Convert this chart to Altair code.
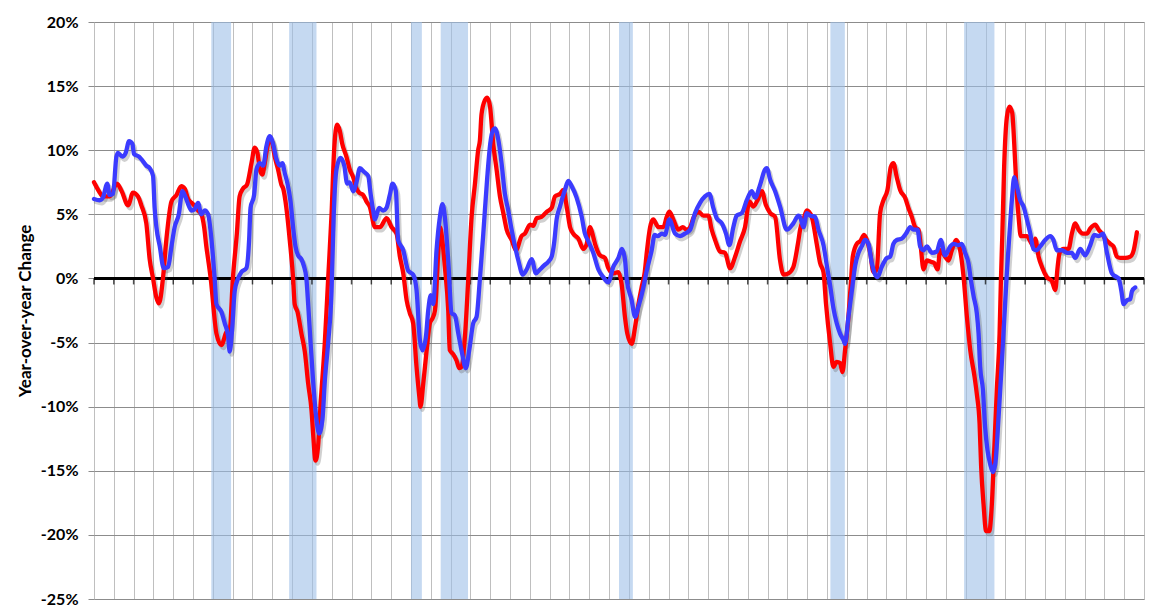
import altair as alt
import pandas as pd

# ---------------- data ----------------
red_years = [
    1964.00, 1964.25, 1964.45, 1964.79, 1965.16, 1965.40, 1965.72, 1965.97, 1966.22, 1966.39,
    1966.64, 1966.81, 1966.98, 1967.15, 1967.28, 1967.48, 1967.65, 1967.91, 1968.16, 1968.41,
    1968.58, 1968.75, 1969.00, 1969.25, 1969.42, 1969.56, 1969.67, 1969.76, 1969.89, 1970.18,
    1970.43, 1970.68, 1970.85, 1971.01, 1971.21, 1971.35, 1971.52, 1971.72, 1971.95, 1972.11,
    1972.25, 1972.37, 1972.50, 1972.62, 1972.79, 1972.96, 1973.12, 1973.29, 1973.46, 1973.55,
    1973.71, 1973.88, 1974.05, 1974.13, 1974.27, 1974.47, 1974.64, 1974.81, 1974.98, 1975.06,
    1975.18, 1975.31, 1975.43, 1975.65, 1975.82, 1975.99, 1976.12, 1976.27, 1976.41, 1976.53,
    1976.74, 1976.91, 1977.08, 1977.25, 1977.38, 1977.59, 1977.75, 1977.92, 1978.18, 1978.43,
    1978.77, 1979.02, 1979.27, 1979.44, 1979.61, 1979.78, 1979.94, 1980.11, 1980.28, 1980.42,
    1980.48, 1980.62, 1980.79, 1980.95, 1981.09, 1981.21, 1981.38, 1981.46, 1981.54, 1981.71,
    1981.88, 1981.96, 1982.13, 1982.30, 1982.44, 1982.55, 1982.72, 1982.89, 1983.06, 1983.23,
    1983.39, 1983.48, 1983.56, 1983.73, 1983.85, 1983.99, 1984.15, 1984.32, 1984.49, 1984.66,
    1984.83, 1985.08, 1985.30, 1985.58, 1985.75, 1986.01, 1986.17, 1986.34, 1986.59, 1986.85,
    1987.10, 1987.27, 1987.52, 1987.69, 1987.86, 1988.03, 1988.19, 1988.45, 1988.70, 1988.87,
    1989.04, 1989.12, 1989.29, 1989.54, 1989.79, 1989.96, 1990.21, 1990.47, 1990.63, 1990.80,
    1990.92, 1991.14, 1991.31, 1991.48, 1991.64, 1991.80, 1991.90, 1992.07, 1992.23, 1992.49,
    1992.74, 1992.91, 1993.04, 1993.24, 1993.50, 1993.72, 1993.92, 1994.09, 1994.25, 1994.51,
    1994.76, 1995.01, 1995.18, 1995.35, 1995.60, 1995.85, 1996.11, 1996.36, 1996.61, 1996.86,
    1997.08, 1997.28, 1997.49, 1997.71, 1997.92, 1998.13, 1998.38, 1998.63, 1998.80, 1999.05,
    1999.30, 1999.56, 1999.64, 1999.81, 1999.98, 2000.23, 2000.48, 2000.65, 2000.82, 2000.95,
    2001.16, 2001.32, 2001.49, 2001.66, 2001.78, 2001.91, 2002.08, 2002.20, 2002.30, 2002.50,
    2002.67, 2002.87, 2003.01, 2003.18, 2003.34, 2003.51, 2003.68, 2003.85, 2004.05, 2004.22,
    2004.35, 2004.52, 2004.69, 2004.94, 2005.11, 2005.28, 2005.45, 2005.62, 2005.73, 2005.87,
    2006.04, 2006.24, 2006.41, 2006.58, 2006.71, 2006.96, 2007.13, 2007.30, 2007.52, 2007.72,
    2007.90, 2008.06, 2008.23, 2008.45, 2008.56, 2008.70, 2008.78, 2008.90, 2009.03, 2009.19,
    2009.32, 2009.44, 2009.57, 2009.71, 2009.78, 2009.85, 2009.94, 2010.08, 2010.21, 2010.35,
    2010.45, 2010.55, 2010.67, 2010.78, 2011.09, 2011.26, 2011.42, 2011.51, 2011.68, 2011.85,
    2012.10, 2012.35, 2012.52, 2012.64, 2012.74, 2012.94, 2013.19, 2013.36, 2013.53, 2013.70,
    2013.92, 2014.12, 2014.29, 2014.54, 2014.71, 2014.88, 2015.04, 2015.30, 2015.46, 2015.63,
    2015.80, 2016.05, 2016.31, 2016.48, 2016.64,
]
red_values = [
    7.5, 6.8, 6.4, 6.4, 7.4, 6.8, 5.7, 6.7, 6.4, 5.7,
    4.3, 1.5, 0.0, -1.5, -1.95, 0.0, 3.0, 6.0, 6.5, 7.2,
    7.0, 6.2, 5.8, 5.3, 5.0, 4.0, 2.5, 1.5, 0.0, -4.3,
    -5.2, -4.2, -4.0, 0.0, 3.5, 6.4, 7.0, 7.3, 9.0, 10.2,
    9.8, 8.5, 8.1, 9.0, 10.5, 10.8, 9.5, 8.5, 7.3, 7.0,
    5.5, 3.0, 0.0, -2.0, -2.6, -4.3, -5.7, -8.2, -10.3, -12.1,
    -14.2, -13.1, -10.0, -5.0, 0.0, 5.0, 10.0, 12.0, 11.5, 10.5,
    9.5, 8.5, 7.9, 7.0, 6.7, 6.5, 6.0, 5.6, 4.0, 4.0,
    4.7, 4.0, 3.5, 1.7, 0.4, -1.7, -2.7, -3.5, -6.9, -9.2,
    -10.0, -8.2, -5.6, -3.5, -3.1, -2.5, 2.2, 4.0, 3.5, 0.9,
    -2.5, -5.6, -5.9, -6.4, -7.0, -6.9, -4.6, -0.1, 4.8, 7.4,
    10.0, 10.8, 12.8, 13.9, 14.1, 13.4, 10.5, 8.5, 6.4, 5.1,
    3.8, 3.0, 2.2, 3.3, 3.5, 4.2, 4.1, 4.7, 4.8, 5.2,
    5.5, 6.4, 6.6, 6.9, 5.6, 4.0, 3.5, 3.1, 2.3, 2.7,
    4.0, 3.7, 2.7, 1.8, 1.6, 0.8, 0.4, 0.5, -0.4, -3.0,
    -4.3, -5.1, -3.8, -2.0, -0.7, 0.5, 2.0, 4.0, 4.6, 4.0,
    4.0, 4.8, 5.2, 4.6, 3.8, 4.0, 3.8, 4.0, 4.7, 5.2,
    4.9, 4.9, 3.8, 3.0, 2.1, 2.0, 0.8, 1.7, 2.9, 4.0,
    6.0, 5.6, 6.1, 6.8, 5.7, 5.1, 4.8, 1.4, 0.3, 0.4,
    0.9, 3.0, 3.8, 4.6, 5.3, 4.8, 2.7, 1.2, 0.5, -2.0,
    -5.1, -6.9, -6.5, -6.6, -7.3, -5.6, -3.0, -0.4, 1.7, 2.7,
    2.9, 3.4, 3.0, 2.0, 0.5, 0.7, 5.1, 6.1, 6.9, 8.7,
    9.0, 7.9, 6.9, 6.3, 5.5, 4.8, 4.0, 3.8, 2.5, 0.7,
    1.4, 1.3, 1.2, 0.7, 2.2, 1.7, 1.4, 2.2, 3.0, 2.2,
    0.0, -3.0, -5.6, -7.7, -9.0, -11.3, -14.7, -17.6, -19.7, -19.7,
    -17.6, -13.4, -8.7, -4.3, 0.0, 3.5, 8.7, 12.6, 13.4, 12.9,
    10.5, 7.4, 4.8, 3.3, 3.3, 2.9, 2.5, 3.1, 1.7, 0.9,
    0.1, -0.2, -0.9, 0.9, 2.0, 2.3, 2.3, 3.5, 4.3, 3.8,
    3.5, 3.5, 3.9, 4.2, 3.8, 3.5, 3.1, 2.7, 2.5, 1.7,
    1.6, 1.6, 1.7, 2.2, 3.6,
]

blue_years = [
    1964.00, 1964.29, 1964.45, 1964.67, 1964.79, 1964.96, 1965.13, 1965.21, 1965.43, 1965.60,
    1965.77, 1965.94, 1966.02, 1966.27, 1966.39, 1966.64, 1966.81, 1966.98, 1967.06, 1967.15,
    1967.32, 1967.52, 1967.74, 1967.91, 1968.07, 1968.28, 1968.46, 1968.63, 1968.75, 1968.92,
    1969.08, 1969.25, 1969.42, 1969.59, 1969.76, 1969.93, 1970.09, 1970.18, 1970.43, 1970.60,
    1970.77, 1970.85, 1970.97, 1971.10, 1971.27, 1971.44, 1971.69, 1971.83, 1971.90, 1972.08,
    1972.20, 1972.37, 1972.54, 1972.70, 1972.87, 1973.04, 1973.21, 1973.38, 1973.51, 1973.63,
    1973.75, 1973.92, 1974.05, 1974.17, 1974.30, 1974.47, 1974.59, 1974.72, 1974.81, 1974.93,
    1975.06, 1975.23, 1975.36, 1975.53, 1975.65, 1975.82, 1975.99, 1976.10, 1976.24, 1976.44,
    1976.63, 1976.78, 1976.91, 1977.08, 1977.25, 1977.42, 1977.64, 1977.84, 1977.97, 1978.09,
    1978.18, 1978.39, 1978.60, 1978.76, 1978.93, 1979.07, 1979.24, 1979.35, 1979.61, 1979.86,
    1980.11, 1980.28, 1980.45, 1980.58, 1980.75, 1980.87, 1981.00, 1981.12, 1981.29, 1981.46,
    1981.59, 1981.71, 1981.88, 1982.05, 1982.22, 1982.39, 1982.55, 1982.77, 1982.94, 1983.14,
    1983.31, 1983.48, 1983.65, 1983.85, 1984.00, 1984.15, 1984.24, 1984.41, 1984.57, 1984.74,
    1984.91, 1985.08, 1985.25, 1985.42, 1985.64, 1985.84, 1986.09, 1986.31, 1986.51, 1986.71,
    1986.93, 1987.10, 1987.22, 1987.35, 1987.52, 1987.77, 1987.94, 1988.11, 1988.36, 1988.62,
    1988.78, 1988.95, 1989.20, 1989.46, 1989.71, 1989.96, 1990.21, 1990.47, 1990.64, 1990.80,
    1990.89, 1991.14, 1991.31, 1991.48, 1991.73, 1991.90, 1992.15, 1992.30, 1992.45, 1992.66,
    1992.82, 1993.04, 1993.33, 1993.58, 1993.83, 1994.09, 1994.34, 1994.59, 1994.84, 1995.06,
    1995.26, 1995.43, 1995.69, 1995.90, 1996.07, 1996.27, 1996.44, 1996.70, 1996.95, 1997.20,
    1997.37, 1997.62, 1997.87, 1997.96, 1998.13, 1998.38, 1998.63, 1998.97, 1999.30, 1999.56,
    1999.64, 1999.81, 1999.98, 2000.15, 2000.40, 2000.57, 2000.82, 2000.99, 2001.16, 2001.32,
    2001.49, 2001.66, 2001.83, 2001.91, 2002.08, 2002.25, 2002.42, 2002.59, 2002.75, 2002.92,
    2003.09, 2003.26, 2003.43, 2003.55, 2003.76, 2004.02, 2004.19, 2004.35, 2004.52, 2004.77,
    2004.99, 2005.20, 2005.36, 2005.57, 2005.70, 2005.87, 2006.04, 2006.29, 2006.54, 2006.74,
    2006.96, 2007.22, 2007.38, 2007.64, 2007.80, 2007.97, 2008.14, 2008.25, 2008.40, 2008.56,
    2008.65, 2008.73, 2008.87, 2008.98, 2009.10, 2009.24, 2009.37, 2009.49, 2009.66, 2009.83,
    2010.00, 2010.08, 2010.21, 2010.33, 2010.45, 2010.58, 2010.75, 2010.92, 2011.09, 2011.26,
    2011.42, 2011.59, 2011.76, 2012.01, 2012.27, 2012.43, 2012.60, 2012.86, 2013.11, 2013.36,
    2013.53, 2013.78, 2014.03, 2014.29, 2014.49, 2014.71, 2014.93, 2015.13, 2015.38, 2015.63,
    2015.72, 2015.85, 2015.97, 2016.14, 2016.31, 2016.39, 2016.56,
]
blue_values = [
    6.2, 6.1, 6.3, 7.4, 6.5, 6.6, 9.5, 9.8, 9.5, 9.8,
    10.7, 10.5, 9.7, 9.5, 9.3, 8.8, 8.6, 8.0, 5.5, 4.0,
    2.5, 0.8, 0.9, 2.5, 4.0, 5.0, 6.8, 6.3, 5.8, 5.3,
    5.4, 5.9, 5.0, 5.3, 5.0, 3.0, 0.0, -2.0, -2.6, -3.5,
    -4.5, -5.7, -4.0, -1.0, 0.0, 0.5, 0.8, 3.0, 5.5, 6.5,
    8.5, 9.0, 8.8, 10.3, 11.1, 10.5, 9.3, 8.8, 9.0, 8.2,
    7.5, 6.0, 4.0, 2.5, 1.8, 1.5, 1.0, 0.0, -2.0, -5.0,
    -8.0, -11.0, -12.1, -11.0, -8.0, -5.0, -1.0, 5.0, 8.5, 9.4,
    8.8, 7.4, 7.5, 6.8, 7.5, 8.6, 8.3, 8.0, 6.5, 5.3,
    4.6, 5.5, 5.3, 5.5, 6.5, 7.4, 6.8, 3.0, 2.2, 0.6,
    0.3, -0.9, -4.8, -5.6, -4.6, -2.5, -1.3, -2.0, 2.2, 4.8,
    5.8, 4.8, 1.4, -2.7, -2.9, -4.3, -5.6, -7.0, -5.6, -3.5,
    -3.0, 0.0, 3.5, 7.9, 10.5, 11.6, 11.7, 10.8, 9.0, 6.6,
    5.3, 3.8, 2.5, 1.4, 0.3, 0.7, 1.5, 0.4, 0.7, 1.0,
    1.3, 1.7, 2.7, 4.6, 5.6, 6.9, 7.6, 7.2, 6.3, 4.8,
    3.5, 2.9, 2.0, 0.7, 0.1, -0.3, 0.9, 1.6, 2.3, 1.5,
    -0.1, -1.7, -3.0, -2.2, -0.7, 0.6, 2.2, 3.4, 3.3, 3.5,
    3.4, 4.6, 3.5, 3.3, 3.5, 3.8, 5.1, 5.9, 6.4, 6.6,
    5.5, 4.7, 4.3, 3.5, 2.6, 4.0, 4.9, 5.1, 6.1, 6.8,
    6.3, 7.3, 8.5, 8.6, 7.7, 6.8, 5.6, 3.8, 4.3, 4.9,
    4.8, 4.0, 5.1, 4.9, 4.8, 3.8, 2.6, 1.0, -0.6, -2.3,
    -3.5, -4.3, -4.8, -5.1, -3.0, -1.0, 1.0, 2.0, 2.5, 3.0,
    2.7, 1.2, 0.3, 0.1, 0.9, 1.6, 1.7, 2.7, 3.0, 3.1,
    3.5, 4.0, 3.8, 3.8, 2.5, 2.2, 2.5, 2.0, 2.1, 3.0,
    1.8, 2.5, 2.7, 2.6, 2.7, 2.0, 1.2, 0.0, -1.4, -2.7,
    -4.3, -6.9, -8.7, -11.6, -13.4, -14.5, -15.1, -14.5, -10.8, -6.4,
    -1.7, 0.5, 3.5, 6.1, 7.9, 7.2, 6.1, 5.6, 4.6, 3.5,
    2.3, 2.2, 2.5, 3.0, 3.3, 3.0, 2.2, 2.2, 2.0, 2.0,
    1.6, 2.3, 1.8, 2.6, 3.4, 3.3, 3.5, 2.0, 0.4, 0.1,
    0.0, -0.9, -2.0, -1.7, -1.6, -1.0, -0.7,
]

recession_start = [1969.92, 1973.85, 1980.00, 1981.50, 1990.50, 2001.17, 2007.92]
recession_end = [1970.92, 1975.23, 1980.55, 1982.88, 1991.20, 2001.90, 2009.45]

grid_years = list(range(1964, 2018))
y_ticks = [-25, -20, -15, -10, -5, 0, 5, 10, 15, 20]
y_title = "Year-over-year Change"

# ---------------- tables ----------------
red_df = pd.DataFrame({"year": red_years, "value": red_values})
blue_df = pd.DataFrame({"year": blue_years, "value": blue_values})
rec_df = pd.DataFrame({"year": recession_start, "end": recession_end,
                       "value": [min(y_ticks)] * len(recession_start),
                       "top": [max(y_ticks)] * len(recession_start)})
tick_df = pd.DataFrame({"year": grid_years, "value": [0] * len(grid_years)})

x_scale = alt.Scale(domain=[1964, 2017], nice=False, zero=False)
y_scale = alt.Scale(domain=[-25, 20], nice=False, zero=False)

FONT = "Lato"

x_axis = alt.Axis(values=grid_years, labels=False, ticks=False, domain=False,
                  grid=True, gridColor="#BFBFBF", gridWidth=1, title=None)
y_axis = alt.Axis(values=y_ticks, labelExpr="datum.value + '%'",
                  labelFont=FONT, labelFontWeight="bold", labelFontSize=16,
                  labelColor="black", labelPadding=10,
                  tickColor="#8C8C8C", tickSize=6, domain=False,
                  grid=True, gridColor="#8C8C8C", gridWidth=1,
                  title=y_title, titleFont=FONT,
                  titleFontSize=17, titleFontWeight="bold", titleColor="black",
                  titlePadding=6)

X = alt.X("year:Q", scale=x_scale, axis=x_axis)
Y = alt.Y("value:Q", scale=y_scale, axis=y_axis)

recessions = alt.Chart(rec_df).mark_rect(color="#9EC0E8", opacity=0.6).encode(
    x=X, x2="end:Q", y=Y, y2="top:Q",
)

zero_line = alt.Chart(tick_df).mark_rule(color="black", strokeWidth=2.5).encode(
    y=Y,
)

zero_ticks = alt.Chart(tick_df).mark_tick(
    orient="vertical", color="black", size=6, thickness=1.5, yOffset=3
).encode(x=X, y=Y)


def series(df, color, shadow=False):
    if shadow:
        mark = dict(color="#555555", opacity=0.28, strokeWidth=4.5,
                    interpolate="monotone", xOffset=2, yOffset=3,
                    strokeJoin="round", strokeCap="round")
    else:
        mark = dict(color=color, strokeWidth=4.3,
                    interpolate="monotone", strokeJoin="round", strokeCap="round")
    return alt.Chart(df).mark_line(**mark).encode(x=X, y=Y)


chart = alt.layer(
    recessions,
    zero_line,
    zero_ticks,
    series(red_df, "#FF0000", shadow=True),
    series(blue_df, "#3B3BFF", shadow=True),
    series(red_df, "#FF0000"),
    series(blue_df, "#3B3BFF"),
).properties(
    width=1050,
    height=577,
    padding={"left": 86, "top": 14, "right": 3, "bottom": 7},
    autosize=alt.AutoSizeParams(type="none"),
).configure_view(
    stroke="#8C8C8C", strokeWidth=1
).configure(
    background="white"
)

chart.save("out.html", embed_options={"renderer": "svg", "actions": False})
